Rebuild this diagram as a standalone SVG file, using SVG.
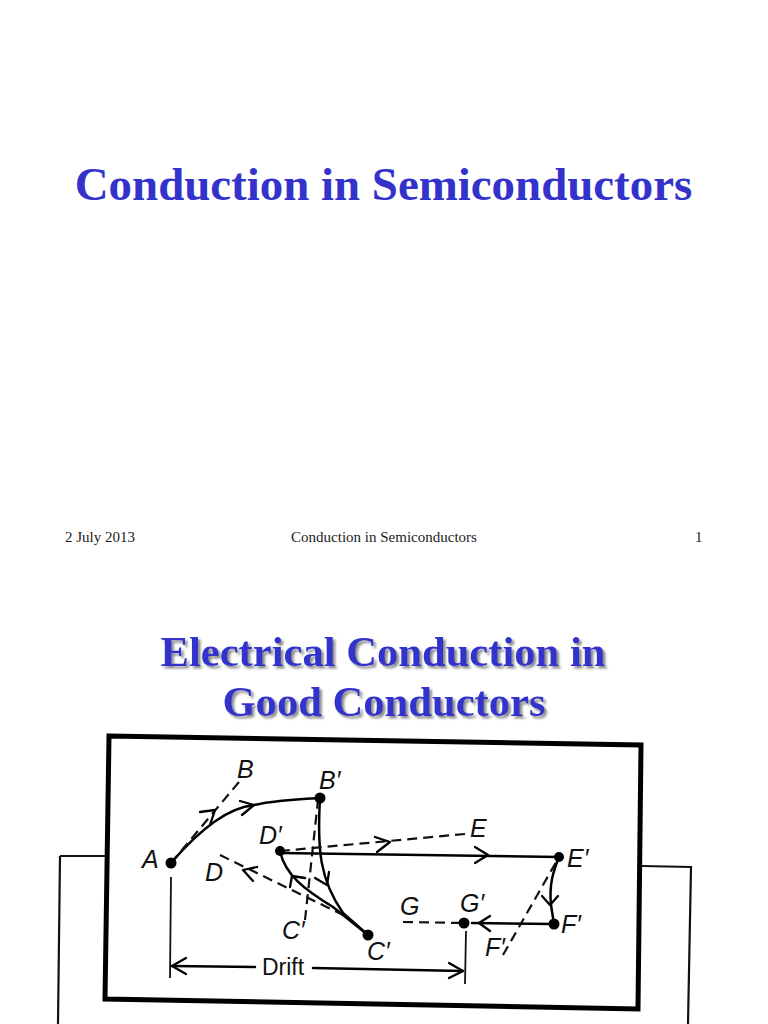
<svg xmlns="http://www.w3.org/2000/svg" width="768" height="1024" viewBox="0 0 768 1024">
<style>
.s{fill:none;stroke:#000;stroke-width:2.5;stroke-linecap:round;stroke-linejoin:round}
.t{fill:none;stroke:#111;stroke-width:1.8}
.d{fill:none;stroke:#111;stroke-width:2.2;stroke-dasharray:10 6}
.h{fill:none;stroke:#000;stroke-width:2.3;stroke-linecap:round;stroke-linejoin:round}
.l{font-family:"Liberation Sans",Arial,sans-serif;font-style:italic;font-size:25px;fill:#111}
.f{font-family:"Liberation Serif","Times New Roman",serif;font-size:15px;fill:#222}
.b{font-family:"Liberation Serif","Times New Roman",serif;font-weight:bold;fill:#3333cc;text-anchor:middle}
.p{fill:#000}
</style>
<defs><filter id="sh" x="-5%" y="-10%" width="110%" height="125%"><feDropShadow dx="2.5" dy="2.5" stdDeviation="0.8" flood-color="#8a8a8a"/></filter></defs>
<rect width="768" height="1024" fill="#fff"/>
<text class="b" x="383.500" y="200" font-size="46.900">Conduction in Semiconductors</text>
<text class="f" x="65" y="542">2 July 2013</text>
<text class="f" x="384" y="542" text-anchor="middle">Conduction in Semiconductors</text>
<text class="f" x="695" y="542">1</text>
<g filter="url(#sh)">
<text class="b" x="383" y="666" font-size="42.600">Electrical Conduction in</text>
<text class="b" x="384" y="716" font-size="42.600">Good Conductors</text>
</g>
<g id="frame">
<path d="M60,856 L58,1024 M60,856 H106 M642,866 L691,867 L688,1024" fill="none" stroke="#111" stroke-width="2.200"/>
<path d="M109,736 L641,745 L638,1009 L105,999 Z" fill="none" stroke="#000" stroke-width="5"/>
</g>
<g id="connectors">
<path class="s" d="M171,863 C195,835 225,808 254,805 C275,800 300,799 320,798"/>
<path class="d" d="M239,782 L171,863"/>
<path class="h" d="M200,812 L215,810 L210,825 M240,801 L254,805 L242,815"/>
<path class="s" d="M320,798 C317,850 320,880 343,913 L368,935"/>
<path class="h" d="M315,878 L327,885 L329,872"/>
<path class="d" d="M305,920 L318,800"/>
<path class="s" d="M368,935 L333,907 C305,890 285,875 280,851"/>
<path class="h" d="M290,887 L292,876 L305,878"/>
<path class="d" d="M220,855 L343,915"/>
<path class="h" d="M257,867 L243,870 L253,881"/>
<path class="d" d="M465,834 L280,851"/>
<path class="h" d="M375,837 L390,842 L377,852"/>
<path class="s" d="M280,853 L559,857"/>
<path class="h" d="M475,847 L488,855 L475,863"/>
<path class="s" d="M559,857 C553,872 549,885 551,905 L554,924"/>
<path class="h" d="M542,896 L550,905 L558,896"/>
<path class="d" d="M503,955 L559,857"/>
<path class="s" d="M554,924 L472,923"/>
<path class="h" d="M490,916 L479,923 L490,931"/>
<path class="d" d="M403,922 L464,923" stroke-width="3"/>
<path class="t" d="M466,931 L465,984 M171,877 L170,978"/>
<path class="s" d="M172,966 L255,967 M313,968 L463,971"/>
<path class="h" d="M186,958 L172,966 L186,974 M449,963 L463,971 L449,978"/>
</g>
<g id="A"><circle class="p" cx="171" cy="863" r="5.500"/><text class="l" x="142" y="868">A</text></g>
<g id="B"><text class="l" x="237" y="778">B</text></g>
<g id="Bp"><circle class="p" cx="320" cy="798" r="5.500"/><text class="l" x="319" y="789">B′</text></g>
<g id="C"><text class="l" x="282" y="939">C′</text></g>
<g id="Cp"><circle class="p" cx="368" cy="935" r="5.500"/><text class="l" x="367" y="960">C′</text></g>
<g id="D"><text class="l" x="205" y="881">D</text></g>
<g id="Dp"><circle class="p" cx="280" cy="851" r="5"/><text class="l" x="259" y="844">D′</text></g>
<g id="E"><text class="l" x="470" y="837">E</text></g>
<g id="Ep"><circle class="p" cx="559" cy="857" r="5"/><text class="l" x="567" y="867">E′</text></g>
<g id="Fp"><circle class="p" cx="554" cy="924" r="5.500"/><text class="l" x="561" y="933">F′</text></g>
<g id="F"><text class="l" x="485" y="956">F′</text></g>
<g id="G"><text class="l" x="400" y="915" font-style="normal">G</text></g>
<g id="Gp"><circle class="p" cx="464" cy="923" r="5.500"/><text class="l" x="460" y="912">G′</text></g>
<g id="drift"><text x="283" y="975" font-family="'Liberation Sans',Arial,sans-serif" font-size="23" fill="#111" text-anchor="middle">Drift</text></g>
</svg>
